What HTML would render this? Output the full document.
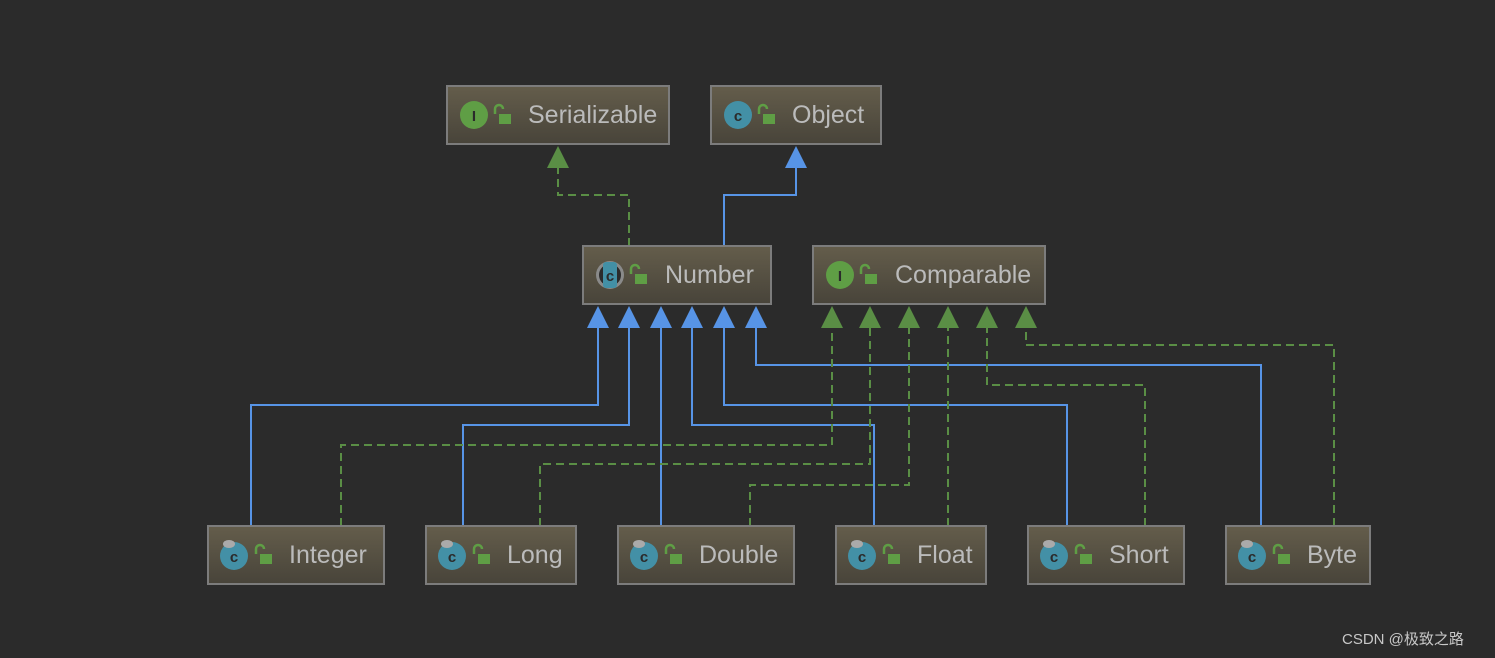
<!DOCTYPE html>
<html><head><meta charset="utf-8"><style>
html,body{margin:0;padding:0;background:#2b2b2b;width:1495px;height:658px;overflow:hidden}
svg{display:block}
text{font-family:"Liberation Sans","DejaVu Sans",sans-serif}
</style></head><body>
<svg width="1495" height="658" xmlns="http://www.w3.org/2000/svg">
<defs>
<linearGradient id="g" x1="0" y1="0" x2="0" y2="1"><stop offset="0" stop-color="#645d4b"/><stop offset="1" stop-color="#48443a"/></linearGradient>
<g id="lock"><path d="M-6,-1 v-5 a4,4 0 0 1 8,0" fill="none" stroke="#5f9e45" stroke-width="2.5"/><rect x="-2" y="-1" width="12" height="10" fill="#5f9e45"/></g>
</defs>
<rect width="1495" height="658" fill="#2b2b2b"/>
<g fill="none" stroke-width="2">
<g stroke="#5794e6">
<path d="M251,526 V405 H598 V328"/>
<path d="M463,526 V425 H629 V328"/>
<path d="M661,526 V328"/>
<path d="M874,526 V425 H692 V328"/>
<path d="M1067,526 V405 H724 V328"/>
<path d="M1261,526 V365 H756 V328"/>
<path d="M724,246 V195 H796 V168"/>
</g>
<g stroke="#5a8e45" stroke-dasharray="8,5">
<path d="M341,526 V445 H832 V328"/>
<path d="M540,526 V464 H870 V328"/>
<path d="M750,526 V485 H909 V328"/>
<path d="M948,526 V328"/>
<path d="M1145,526 V385 H987 V328"/>
<path d="M1334,526 V345 H1026 V328"/>
<path d="M629,246 V195 H558 V168"/>
</g>
</g>
<g fill="#5794e6">
<path d="M598,306 l-11,22 h22z"/><path d="M629,306 l-11,22 h22z"/><path d="M661,306 l-11,22 h22z"/>
<path d="M692,306 l-11,22 h22z"/><path d="M724,306 l-11,22 h22z"/><path d="M756,306 l-11,22 h22z"/>
<path d="M796,146 l-11,22 h22z"/>
</g>
<g fill="#5a8e45">
<path d="M832,306 l-11,22 h22z"/><path d="M870,306 l-11,22 h22z"/><path d="M909,306 l-11,22 h22z"/>
<path d="M948,306 l-11,22 h22z"/><path d="M987,306 l-11,22 h22z"/><path d="M1026,306 l-11,22 h22z"/>
<path d="M558,146 l-11,22 h22z"/>
</g>
<g stroke="#7c7c7c" stroke-width="2" fill="url(#g)">
<rect x="447" y="86" width="222" height="58"/>
<rect x="711" y="86" width="170" height="58"/>
<rect x="583" y="246" width="188" height="58"/>
<rect x="813" y="246" width="232" height="58"/>
<rect x="208" y="526" width="176" height="58"/>
<rect x="426" y="526" width="150" height="58"/>
<rect x="618" y="526" width="176" height="58"/>
<rect x="836" y="526" width="150" height="58"/>
<rect x="1028" y="526" width="156" height="58"/>
<rect x="1226" y="526" width="144" height="58"/>
</g>
<g>
<circle cx="474" cy="115" r="14" fill="#5f9e45"/><text x="474" y="121" font-size="15" fill="#2b2b2b" text-anchor="middle" font-weight="bold">I</text>
<circle cx="738" cy="115" r="14" fill="#4390a6"/><text x="738" y="121" font-size="15" fill="#2b2b2b" text-anchor="middle" font-weight="bold">c</text>
<circle cx="610" cy="275" r="14" fill="#8a8a8a"/><circle cx="610" cy="275" r="11" fill="#2b2b2b"/><rect x="603" y="262" width="14" height="26" rx="3" fill="#4390a6"/><text x="610" y="281" font-size="15" fill="#2b2b2b" text-anchor="middle" font-weight="bold">c</text>
<circle cx="840" cy="275" r="14" fill="#5f9e45"/><text x="840" y="281" font-size="15" fill="#2b2b2b" text-anchor="middle" font-weight="bold">I</text>
</g>
<use href="#lock" x="501" y="115"/><use href="#lock" x="765" y="115"/><use href="#lock" x="637" y="275"/><use href="#lock" x="867" y="275"/>
<g font-size="15" font-weight="bold" fill="#2b2b2b" text-anchor="middle">
<circle cx="234" cy="556" r="14" fill="#4390a6"/><ellipse cx="229" cy="544" rx="6" ry="4" fill="#aaa"/><text x="234" y="562">c</text>
<circle cx="452" cy="556" r="14" fill="#4390a6"/><ellipse cx="447" cy="544" rx="6" ry="4" fill="#aaa"/><text x="452" y="562">c</text>
<circle cx="644" cy="556" r="14" fill="#4390a6"/><ellipse cx="639" cy="544" rx="6" ry="4" fill="#aaa"/><text x="644" y="562">c</text>
<circle cx="862" cy="556" r="14" fill="#4390a6"/><ellipse cx="857" cy="544" rx="6" ry="4" fill="#aaa"/><text x="862" y="562">c</text>
<circle cx="1054" cy="556" r="14" fill="#4390a6"/><ellipse cx="1049" cy="544" rx="6" ry="4" fill="#aaa"/><text x="1054" y="562">c</text>
<circle cx="1252" cy="556" r="14" fill="#4390a6"/><ellipse cx="1247" cy="544" rx="6" ry="4" fill="#aaa"/><text x="1252" y="562">c</text>
</g>
<use href="#lock" x="262" y="555"/><use href="#lock" x="480" y="555"/><use href="#lock" x="672" y="555"/><use href="#lock" x="890" y="555"/><use href="#lock" x="1082" y="555"/><use href="#lock" x="1280" y="555"/>
<g font-size="25" fill="#bbbbbb">
<text x="528" y="123">Serializable</text>
<text x="792" y="123">Object</text>
<text x="665" y="283">Number</text>
<text x="895" y="283">Comparable</text>
<text x="289" y="563">Integer</text>
<text x="507" y="563">Long</text>
<text x="699" y="563">Double</text>
<text x="917" y="563">Float</text>
<text x="1109" y="563">Short</text>
<text x="1307" y="563">Byte</text>
</g>
<text x="1342" y="644" font-size="15" fill="#c8c8c8" style='font-family:"Liberation Sans","Noto Sans CJK SC",sans-serif'>CSDN @极致之路</text>
</svg>
</body></html>
